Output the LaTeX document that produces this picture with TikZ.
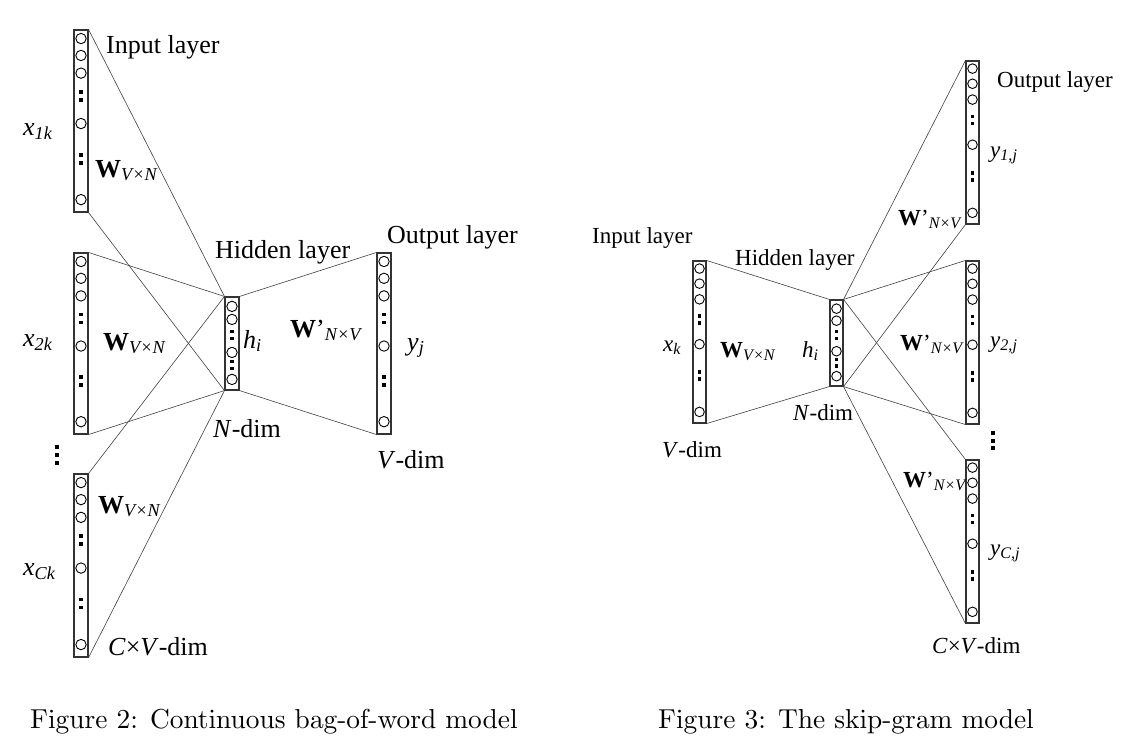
\documentclass[tikz,border=0pt]{standalone}
\usepackage{fontspec}
\setmainfont{Liberation Serif}
\usetikzlibrary{positioning}
\font\capfont=cmr10 at 27.4pt
\newcommand{\sub}[1]{\textsubscript{\itshape #1}}

\begin{document}
\begin{tikzpicture}[
    x=1pt, y=-1pt,
    %–––– STYLES ––––
    vec/.style  = {rectangle, draw=black!80, line width=1.1pt, inner sep=0pt},
    link/.style = {draw=black!75, line width=0.6pt},
    unit/.style = {line width=0.9pt},
    lbl/.style  = {inner sep=0pt, anchor=base west, font=\fontsize{26}{30}\selectfont},
    slbl/.style = {lbl, font=\fontsize{23}{27}\selectfont},
]
\useasboundingbox (0,0) rectangle (1140,750);

%–––– WORD VECTORS (5 units, 2 gaps) ––––
\foreach \n/\x/\t/\h/\w/\r in {in1/81/30/182/14/5.2, in2/81/253/181/14/5.2,
    in3/81/474/183/14/5.2, out/384/253/181/14/5.2, sgin/699.5/261/162/13/4.8,
    sgout1/972.5/61/163/13/4.8, sgout2/972.5/261/163/13/4.8, sgout3/972.5/460/163/13/4.8}{
  \node[vec, minimum width=\w pt, minimum height=\h pt] (\n) at (\x,\t+\h/2) {};
  \foreach \f in {0.05,0.143,0.24,0.517,0.935}
    \draw[unit] (\n.north) ++(0,\f*\h) circle[radius=\r pt];
  \foreach \f in {0.343,0.387,0.689,0.733}
    \fill (\n.north) ++(0,\f*\h) +(-1.8,-1.8) rectangle +(1.8,1.8);
}

%–––– HIDDEN LAYERS ––––
\foreach \n/\x/\t/\h/\w/\r in {hid/232/297/93/14/5.2, sghid/836.5/300/86/13/4.8}{
  \node[vec, minimum width=\w pt, minimum height=\h pt] (\n) at (\x,\t+\h/2) {};
  \foreach \f in {0.107,0.247,0.602,0.892}
    \draw[unit] (\n.north) ++(0,\f*\h) circle[radius=\r pt];
  \foreach \f in {0.376,0.452,0.699,0.774}
    \fill (\n.north) ++(0,\f*\h) +(-1.7,-1.7) rectangle +(1.7,1.7);
}

%–––– CONNECTORS ––––
\foreach \a in {in1,in2,in3}{
  \draw[link] (\a.north east) -- (hid.north west);
  \draw[link] (\a.south east) -- (hid.south west);
}
\draw[link] (hid.north east) -- (out.north west);
\draw[link] (hid.south east) -- (out.south west);
\draw[link] (sgin.north east) -- (sghid.north west);
\draw[link] (sgin.south east) -- (sghid.south west);
\foreach \b in {sgout1,sgout2,sgout3}{
  \draw[link] (sghid.north east) -- (\b.north west);
  \draw[link] (sghid.south east) -- (\b.south west);
}

%–––– VERTICAL DOTS ––––
\foreach \y in {447,455,463}
  \fill (57,\y) +(-2,-2) rectangle +(2,2);
\foreach \y in {433,441,448}
  \fill (993,\y) +(-1.8,-1.8) rectangle +(1.8,1.8);

%–––– CBOW LABELS ––––
\node[lbl] (cbowin)  at (106,53)  {Input layer};
\node[lbl] (cbowhid) at (215,258) {Hidden layer};
\node[lbl] (cbowout) at (387,243) {Output layer};
\node[lbl] (x1)  at (23,135)  {\textit{x}\sub{1k}};
\node[lbl] (x2)  at (23,346)  {\textit{x}\sub{2k}};
\node[lbl] (xc)  at (23,575)  {\textit{x}\sub{Ck}};
\node[lbl] (w1)  at (95,177)  {\textbf{W}\sub{V×N}};
\node[lbl] (w2)  at (103,350) {\textbf{W}\sub{V×N}};
\node[lbl] (w3)  at (98,513)  {\textbf{W}\sub{V×N}};
\node[lbl] (hi)  at (243,348) {\textit{h}\sub{i}};
\node[lbl] (wo)  at (290,337) {\textbf{W}'\sub{N×V}};
\node[lbl] (yj)  at (407,350) {\textit{y}\sub{j}};
\node[lbl] (ndim) at (213,437) {\textit{N}-dim};
\node[lbl] (vdim) at (377,468) {\textit{V}-dim};
\node[lbl] (cvdim) at (108,655) {\textit{C}×\textit{V}-dim};

%–––– SKIP-GRAM LABELS ––––
\node[slbl] (sgin_l)  at (592,243) {Input layer};
\node[slbl] (sghid_l) at (735,265) {Hidden layer};
\node[slbl] (sgout_l) at (997,87)  {Output layer};
\node[slbl] (xk)   at (663,351) {\textit{x}\sub{k}};
\node[slbl] (sgw)  at (720,357) {\textbf{W}\sub{V×N}};
\node[slbl] (sghi) at (802,357) {\textit{h}\sub{i}};
\node[slbl] (sgndim) at (793,420) {\textit{N}-dim};
\node[slbl] (sgvdim) at (662,457) {\textit{V}-dim};
\node[slbl] (y1)  at (990,157) {\textit{y}\sub{1,j}};
\node[slbl] (y2)  at (990,347) {\textit{y}\sub{2,j}};
\node[slbl] (yc)  at (990,555) {\textit{y}\sub{C,j}};
\node[slbl] (wo1) at (898,225) {\textbf{W}'\sub{N×V}};
\node[slbl] (wo2) at (900,350) {\textbf{W}'\sub{N×V}};
\node[slbl] (wo3) at (903,487) {\textbf{W}'\sub{N×V}};
\node[slbl] (sgcvdim) at (932,653) {\textit{C}×\textit{V}-dim};

%–––– CAPTIONS ––––
\node[anchor=base west, inner sep=0pt] (cap2) at (30,728) {\capfont Figure 2: Continuous bag-of-word model};
\node[anchor=base west, inner sep=0pt] (cap3) at (658,728) {\capfont Figure 3: The skip-gram model};
\end{tikzpicture}
\end{document}
